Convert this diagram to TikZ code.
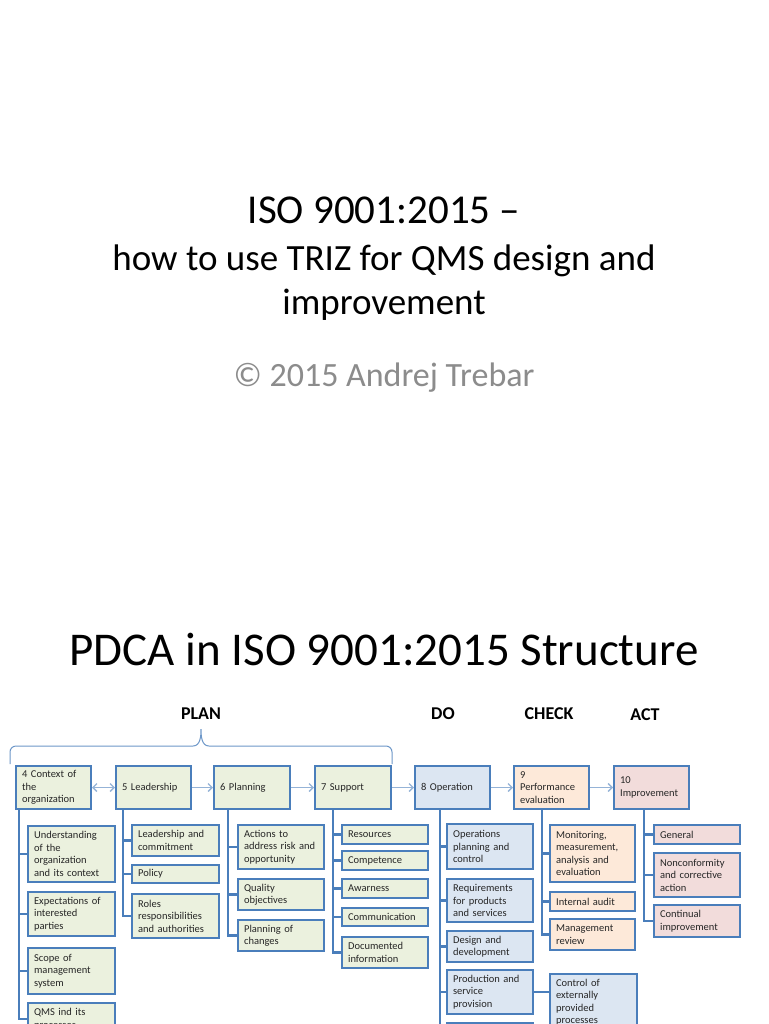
\documentclass[tikz,border=0pt]{standalone}
\usepackage{fontspec}
\setmainfont{Carlito}
\usetikzlibrary{arrows.meta,calc}
\definecolor{bord}{HTML}{4A7EBB}
\definecolor{arrc}{HTML}{95B3D7}
\definecolor{planfill}{HTML}{EBF1DE}
\definecolor{dofill}{HTML}{DCE6F2}
\definecolor{checkfill}{HTML}{FDE9D9}
\definecolor{actfill}{HTML}{F2DCDB}
\definecolor{txt}{HTML}{262626}
\definecolor{copyc}{HTML}{8C8C8C}
\tikzset{
  box/.style={draw=bord, line width=2.2pt, anchor=north west, inner xsep=6pt, inner ysep=1pt,
    align=left, text=txt, font=\fontsize{10.5}{12.5}\selectfont},
  planbox/.style={box, fill=planfill},
  dobox/.style={box, fill=dofill},
  checkbox/.style={box, fill=checkfill},
  actbox/.style={box, fill=actfill},
  conn/.style={draw=bord, line width=2.2pt},
  flow/.style={draw=arrc, line width=1.3pt, -{Straight Barb[length=4pt,width=8pt]}},
  dflow/.style={draw=arrc, line width=1.3pt, {Straight Barb[length=4pt,width=8pt]}-{Straight Barb[length=4pt,width=8pt]}},
  bracecol/.style={draw=bord!80, line width=1pt},
  phase/.style={font=\bfseries\fontsize{18}{21}\selectfont, anchor=base},
}
\newcommand\bx[7]{%
  \pgfmathsetmacro\bxw{#5-2.2}\pgfmathsetmacro\bxh{#6-2.2}\pgfmathsetmacro\bxtw{#5-13.2}%
  \node[#2, minimum width=\bxw pt, minimum height=\bxh pt, text width=\bxtw pt] (#1) at (#3,#4) {#7};}
\begin{document}
\begin{tikzpicture}[x=1pt,y=-1pt]
\useasboundingbox (0,0) rectangle (768,1024);
\fill[white] (0,0) rectangle (768,1024);
\clip (0,0) rectangle (768,1024);

% title slide
\node[font=\fontsize{41}{48}\selectfont, anchor=base] (t1) at (384,224) {ISO 9001:2015 –};
\node[font=\fontsize{37}{44}\selectfont, anchor=base] (t2) at (384,270) {how to use TRIZ for QMS design and};
\node[font=\fontsize{37}{44}\selectfont, anchor=base] (t3) at (384,314) {improvement};
\node[font=\fontsize{34}{40}\selectfont, anchor=base, text=copyc] (t4) at (384,386) {© 2015 Andrej Trebar};

% second slide
\node[font=\fontsize{47}{55}\selectfont, anchor=base] (t5) at (384,665) {PDCA in ISO 9001:2015 Structure};
\node[phase] (plan) at (201,719) {PLAN};
\node[phase] (do) at (443,719) {DO};
\node[phase] (check) at (549,719) {CHECK};
\node[phase] (act) at (645,720) {ACT};

\draw[bracecol] (10,764) -- (10,752) to[out=90,in=180] (16,746) -- (193,746)
  to[out=0,in=-90] (201,729) to[out=-90,in=180] (209,746) -- (386,746)
  to[out=0,in=90] (392,752) -- (392,764);

% main row
\bx{n4}{planbox}{15}{765}{76}{45}{4 Context of\\the\\organization}
\bx{n5}{planbox}{115}{765}{76}{45}{5 Leadership}
\bx{n6}{planbox}{213}{765}{77}{45}{6 Planning}
\bx{n7}{planbox}{314}{765}{77}{45}{7 Support}
\bx{n8}{dobox}{414}{765}{76}{45}{8 Operation}
\bx{n9}{checkbox}{513}{765}{76}{45}{9\\Performance\\evaluation}
\bx{n10}{actbox}{613}{765}{76}{45}{10\\Improvement}

\draw[dflow] (n4) -- (n5);
\draw[flow] (n5) -- (n6);
\draw[flow] (n6) -- (n7);
\draw[flow] (n7) -- (n8);
\draw[flow] (n8) -- (n9);
\draw[flow] (n9) -- (n10);

% column 4
\bx{c41}{planbox}{27}{825}{88}{58}{Understanding\\of the\\organization\\and its context}
\bx{c42}{planbox}{27}{891}{88}{46}{Expectations of\\interested\\parties}
\bx{c43}{planbox}{27}{947}{88}{48}{Scope of\\management\\system}
\bx{c44}{planbox}{27}{1002}{88}{34}{QMS ind its\\processes}
\foreach \c in {c41,c42,c43,c44} \draw[conn] ($(n4.south west)+(4,0)$) |- (\c.west);

% column 5
\bx{c51}{planbox}{131}{824}{88}{33}{Leadership and\\commitment}
\bx{c52}{planbox}{131}{864}{88}{20}{Policy}
\bx{c53}{planbox}{131}{893}{88}{46}{Roles\\responsibilities\\and authorities}
\foreach \c in {c51,c52,c53} \draw[conn] ($(n5.south west)+(8,0)$) |- (\c.west);

% column 6
\bx{c61}{planbox}{237}{824}{87}{46}{Actions to\\address risk and\\opportunity}
\bx{c62}{planbox}{237}{878}{87}{33}{Quality\\objectives}
\bx{c63}{planbox}{237}{919}{87}{33}{Planning of\\changes}
\foreach \c in {c61,c62,c63} \draw[conn] ($(n6.south west)+(15,0)$) |- (\c.west);

% column 7
\bx{c71}{planbox}{341}{824}{87}{21}{Resources}
\bx{c72}{planbox}{341}{850}{87}{21}{Competence}
\bx{c73}{planbox}{341}{878}{87}{21}{Awarness}
\bx{c74}{planbox}{341}{907}{87}{20}{Communication}
\bx{c75}{planbox}{341}{936}{87}{33}{Documented\\information}
\foreach \c in {c71,c72,c73,c74,c75} \draw[conn] ($(n7.south west)+(19,0)$) |- (\c.west);

% column 8
\bx{c81}{dobox}{446}{823}{87}{47}{Operations\\planning and\\control}
\bx{c82}{dobox}{446}{878}{87}{45}{Requirements\\for products\\and services}
\bx{c83}{dobox}{446}{930}{87}{33}{Design and\\development}
\bx{c84}{dobox}{446}{969}{87}{46}{Production and\\service\\provision}
\bx{c85}{dobox}{446}{1022}{87}{40}{}
\bx{ctrl}{dobox}{549}{973}{88}{58}{Control of\\externally\\provided\\processes}
\foreach \c in {c81,c82,c83,c84,c85} \draw[conn] ($(n8.south west)+(26,0)$) |- (\c.west);
\draw[conn] (c84.east) -- (c84.east -| ctrl.west);

% column 9
\bx{c91}{checkbox}{549}{824}{86}{59}{Monitoring,\\measurement,\\analysis and\\evaluation}
\bx{c92}{checkbox}{549}{891}{86}{21}{Internal audit}
\bx{c93}{checkbox}{549}{918}{86}{33}{Management\\review}
\foreach \c in {c91,c92,c93} \draw[conn] ($(n9.south west)+(29,0)$) |- (\c.west);

% column 10
\bx{c101}{actbox}{653}{824}{87}{21}{General}
\bx{c102}{actbox}{653}{852}{87}{46}{Nonconformity\\and corrective\\action}
\bx{c103}{actbox}{653}{904}{87}{34}{Continual\\improvement}
\foreach \c in {c101,c102,c103} \draw[conn] ($(n10.south west)+(31,0)$) |- (\c.west);
\end{tikzpicture}
\end{document}
